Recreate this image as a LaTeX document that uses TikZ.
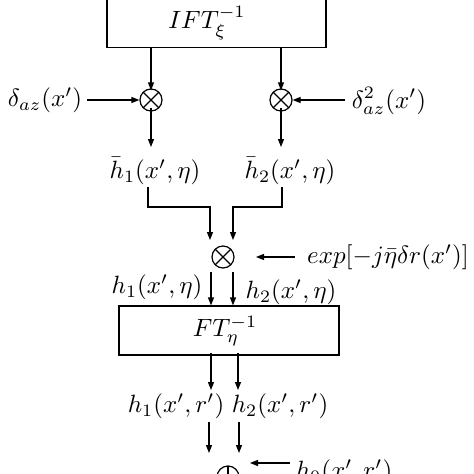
\documentclass[tikz,border=0pt]{standalone}
\usetikzlibrary{arrows.meta}
\begin{document}
\begin{tikzpicture}[x=1pt,y=-1pt,line width=1.2pt,
  >={Triangle[length=8pt,width=6pt]},
  lbl/.style={inner sep=0pt,scale=2.5},
  blk/.style={draw,rectangle,inner sep=0pt},
  mult/.style={circle,draw,minimum size=22pt,inner sep=0pt,
    path picture={\draw (path picture bounding box.north west)--(path picture bounding box.south east)
      (path picture bounding box.north east)--(path picture bounding box.south west);}},
  addn/.style={circle,draw,minimum size=22pt,inner sep=0pt,
    path picture={\draw (path picture bounding box.north)--(path picture bounding box.south)
      (path picture bounding box.west)--(path picture bounding box.east);}}]
\useasboundingbox (0,0) rectangle (474,474);
\clip (0,0) rectangle (474,474);
% top block
\node[blk,minimum width=219pt,minimum height=80pt,anchor=south] (ift) at (216.5,48) {};
\node[lbl] (iftt) at (207,23) {$IFT_{\xi}^{-1}$};
% first multipliers
\node[mult] (m1) at (151,100) {};
\node[mult] (m2) at (281,100) {};
\node[lbl] (d1) at (45,100) {$\delta_{az}(x')$};
\node[lbl] (d2) at (389,101) {$\delta_{az}^{2}(x')$};
\draw[->] (ift.south -| m1) -- ([yshift=-2pt]m1.north);
\draw[->] (ift.south -| m2) -- ([yshift=-2pt]m2.north);
\coordinate (d1s) at (87,100);
\coordinate (d2s) at (345,100);
\draw[->] (d1s) -- (m1.west);
\draw[->] (d2s) -- (m2.east);
% hbar labels
\node[lbl] (hb1) at (155,171) {$\bar{h}_1(x',\eta)$};
\node[lbl] (hb2) at (290,171) {$\bar{h}_2(x',\eta)$};
\coordinate (e1) at (151,147);
\coordinate (e2) at (281,147);
\draw[->] ([yshift=4pt]m1.south) -- (e1);
\draw[->] ([yshift=4pt]m2.south) -- (e2);
% central multiplier
\node[mult] (m3) at (223,257) {};
\coordinate (c1) at (148,187);
\coordinate (c2) at (282,187);
\coordinate (t1) at (210,240);
\coordinate (t2) at (233,240);
\draw[->] (c1) |- (210,207) -- (t1);
\draw[->] (c2) |- (233,207) -- (t2);
\node[lbl] (ex) at (388,257) {$exp[-j\bar{\eta}\delta r(x')]$};
\coordinate (x1) at (295,257);
\coordinate (x2) at (256,257);
\draw[->] (x1) -- (x2);
% FT block
\node[blk,minimum width=220pt,minimum height=49pt] (ft) at (229,330.5) {};
\node[lbl] (ftt) at (225,331) {$FT_{\eta}^{-1}$};
\coordinate (f1) at (211,272);
\coordinate (f2) at (233,272);
\draw[->] (f1) -- (f1 |- ft.north);
\draw[->] (f2) -- (f2 |- ft.north);
\node[lbl] (h1) at (157,287) {$h_1(x',\eta)$};
\node[lbl] (h2) at (291,292) {$h_2(x',\eta)$};
% after FT
\coordinate (g1) at (211,390);
\coordinate (g2) at (238,390);
\draw[->] ([yshift=3pt]g1 |- ft.south) -- (g1);
\draw[->] ([yshift=3pt]g2 |- ft.south) -- (g2);
\node[lbl] (r1) at (176,406) {$h_1(x',r')$};
\node[lbl] (r2) at (280,406) {$h_2(x',r')$};
\coordinate (k1) at (209,422);
\coordinate (k2) at (239,422);
\coordinate (l1) at (209,453);
\coordinate (l2) at (239,453);
\draw[->] (k1) -- (l1);
\draw[->] (k2) -- (l2);
% adder
\node[addn] (ad) at (228,477) {};
\node[lbl] (h0) at (344,472) {$h_0(x',r')$};
\coordinate (h0s) at (290,463);
\coordinate (h0e) at (250,463);
\draw[->] (h0s) -- (h0e);
\end{tikzpicture}
\end{document}
